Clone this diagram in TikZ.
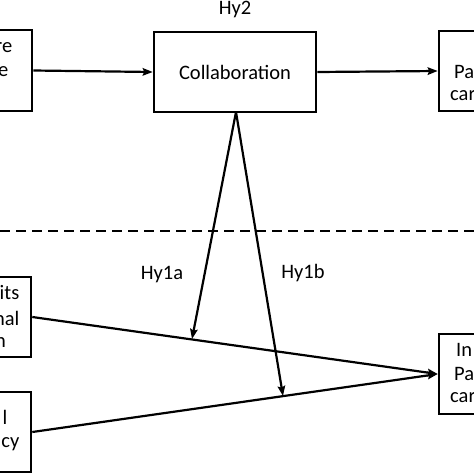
\documentclass[tikz,border=0pt]{standalone}
\usepackage{fontspec}
\setmainfont{Carlito}
\usetikzlibrary{arrows.meta}
\begin{document}
\begin{tikzpicture}[x=1pt,y=-1pt,
  box/.style={draw=black, line width=2.6pt, rectangle, inner sep=0pt},
  lbl/.style={font=\fontsize{20.5}{24}\selectfont, inner sep=0pt},
  conn/.style={line width=2.2pt, -{Stealth[length=10pt,width=7.5pt,inset=1.5pt]}},
  plain/.style={line width=2.2pt}
]
\useasboundingbox (0,0) rectangle (474,474);
\fill[white] (0,0) rectangle (474,474);
% boxes
\node[box, minimum width=132pt, minimum height=81pt] (tl) at (-34,70.5) {};
\node[box, minimum width=162pt, minimum height=80pt] (col) at (235,72) {};
\node[box, minimum width=132pt, minimum height=80pt] (tr) at (505,71) {};
\node[box, minimum width=132pt, minimum height=80pt] (b1) at (-35,317) {};
\node[box, minimum width=132pt, minimum height=80pt] (b2) at (-35,432) {};
\node[box, minimum width=132pt, minimum height=80pt] (br) at (505,374) {};
% texts
\node[lbl, anchor=east] (t1) at (12.5,48) {re};
\node[lbl, anchor=east] (t2) at (8.5,72) {e};
\node[lbl] (tcol) at (col.center) {Collaboration};
\node[lbl] (hy2) at (235,9) {Hy2};
\node[lbl, anchor=west] (t3) at (454,72) {Pa};
\node[lbl, anchor=west] (t4) at (450,96) {car};
\node[lbl, anchor=east] (t5) at (19.5,293) {its};
\node[lbl, anchor=east] (t6) at (19.5,318) {nal};
\node[lbl, anchor=east] (t7) at (6,343) {n};
\node[lbl, anchor=east] (t8) at (7.5,417) {l};
\node[lbl, anchor=east] (t9) at (19.5,444) {cy};
\node[lbl, anchor=west] (t10) at (456,350) {In};
\node[lbl, anchor=west] (t11) at (454,374) {Pa};
\node[lbl, anchor=west] (t12) at (450,398) {car};
\node[lbl] (hy1a) at (162,275) {Hy1a};
\node[lbl] (hy1b) at (303,273) {Hy1b};
% coordinates
\coordinate (cb) at (236,112);
\coordinate (ta) at (192,339);
\coordinate (tb) at (283,396);
\coordinate (dl) at (0,231);
\coordinate (dr) at (474,231);
% connectors
\draw[conn] (tl.east) -- (col.west);
\draw[conn] (col.east) -- (tr.west);
\draw[conn] (b1.east) -- (br.west);
\draw[conn] (b2.east) -- (br.west);
\draw[conn] (cb) -- (ta);
\draw[conn] (cb) -- (tb);
\draw[line width=2.4pt, dash pattern=on 10pt off 6pt] (dl) -- (dr);
\end{tikzpicture}
\end{document}
